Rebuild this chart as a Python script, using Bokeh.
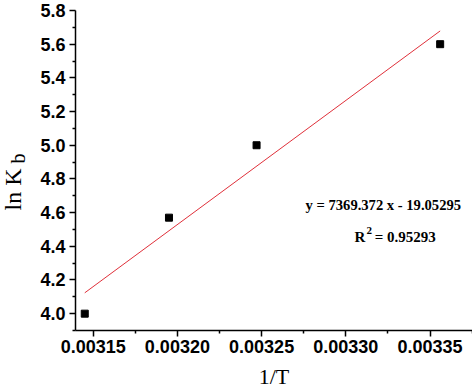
import numpy as np
from bokeh.plotting import figure
from bokeh.layouts import row
from bokeh.models import Label, Range1d, FixedTicker, NumeralTickFormatter
from bokeh.core.properties import value
from bokeh.embed import file_html
from bokeh.resources import INLINE

# data
inv_T = [0.003145, 0.003195, 0.003247, 0.003356]
ln_Kb = [4.00, 4.57, 5.00, 5.60]
slope = 7369.372
intercept = -19.05295
r2 = 0.95293
x_ticks = [0.00315, 0.00320, 0.00325, 0.00330, 0.00335]
y_ticks = [4.0, 4.2, 4.4, 4.6, 4.8, 5.0, 5.2, 5.4, 5.6, 5.8]

H = 388
LW = 36  # width of the y-label strip

# strip holding the y-axis title "ln K" with subscript "b"
lab = figure(width=LW, height=H, frame_width=LW, frame_height=H,
             x_range=Range1d(0, LW), y_range=Range1d(0, H),
             output_backend="svg", toolbar_location=None,
             x_axis_location=None, y_axis_location=None,
             min_border=0, min_border_left=0, min_border_right=0,
             min_border_top=0, min_border_bottom=0)
lab.outline_line_color = None
lab.grid.visible = False
lab.text(x=[12], y=[H - 200], text=["ln K"], angle=np.pi / 2,
         text_font=value("Liberation Serif"), text_font_size="24px",
         text_align="left", text_baseline="alphabetic", text_color="black")
lab.text(x=[17], y=[H - 153], text=["b"], angle=np.pi / 2,
         text_font=value("Liberation Serif"), text_font_size="20px",
         text_align="left", text_baseline="alphabetic", text_color="black")

p = figure(width=472 - LW, height=H, frame_width=397, frame_height=320,
           x_range=Range1d(0.0031395, 0.0033752), y_range=Range1d(3.9, 5.8),
           output_backend="svg", toolbar_location=None,
           min_border_left=75 - LW, min_border_right=0, min_border_top=10, min_border_bottom=58)
p.outline_line_color = None
p.grid.visible = False
p.background_fill_color = "white"
p.border_fill_color = "white"

fit_x = [inv_T[0], inv_T[-1]]
fit_y = [slope * v + intercept for v in fit_x]
p.line(fit_x, fit_y, line_color="#e0303a", line_width=1)
p.scatter(inv_T, ln_Kb, marker="square", size=7, color="black")

for ax in (p.xaxis[0], p.yaxis[0]):
    ax.axis_line_color = "black"
    ax.axis_line_width = 1.5
    ax.major_tick_line_color = "black"
    ax.minor_tick_line_color = "black"
    ax.major_tick_line_width = 1.5
    ax.minor_tick_line_width = 1.5
    ax.major_tick_in = 0
    ax.minor_tick_in = 0
    ax.major_tick_out = 6
    ax.minor_tick_out = 3
    ax.major_label_text_font = "Liberation Sans"
    ax.major_label_text_font_style = "bold"
    ax.major_label_text_font_size = "18px"
    ax.major_label_text_color = "black"

p.xaxis[0].ticker = FixedTicker(ticks=x_ticks,
                                minor_ticks=[0.003125, 0.003175, 0.003225, 0.003275, 0.003325, 0.003375])
p.yaxis[0].ticker = FixedTicker(ticks=y_ticks,
                                minor_ticks=[3.9, 4.1, 4.3, 4.5, 4.7, 4.9, 5.1, 5.3, 5.5, 5.7])
p.xaxis[0].formatter = NumeralTickFormatter(format="0.00000")
p.yaxis[0].formatter = NumeralTickFormatter(format="0.0")
p.xaxis[0].major_label_standoff = 3
p.yaxis[0].major_label_standoff = 4

p.xaxis[0].axis_label = "1/T"
p.xaxis[0].axis_label_text_font = "Liberation Serif"
p.xaxis[0].axis_label_text_font_style = "normal"
p.xaxis[0].axis_label_text_font_size = "22px"
p.xaxis[0].axis_label_text_color = "black"
p.xaxis[0].axis_label_standoff = 8

# equation annotations
p.add_layout(Label(x=0.0032761, y=4.645, text=f"y = {slope} x - {abs(intercept)}",
                   text_font="Liberation Serif", text_font_style="bold", text_font_size="14.6px",
                   text_align="left", text_baseline="alphabetic", text_color="black"))
p.add_layout(Label(x=0.0033052, y=4.458, text="R",
                   text_font="Liberation Serif", text_font_style="bold", text_font_size="15px",
                   text_align="left", text_baseline="alphabetic", text_color="black"))
p.add_layout(Label(x=0.0033123, y=4.494, text="2",
                   text_font="Liberation Serif", text_font_style="bold", text_font_size="11px",
                   text_align="left", text_baseline="alphabetic", text_color="black"))
p.add_layout(Label(x=0.0033171, y=4.458, text=f"= {r2}",
                   text_font="Liberation Serif", text_font_style="bold", text_font_size="15px",
                   text_align="left", text_baseline="alphabetic", text_color="black"))

layout = row(lab, p, spacing=0)
open("out.html", "w").write(file_html(layout, INLINE))
